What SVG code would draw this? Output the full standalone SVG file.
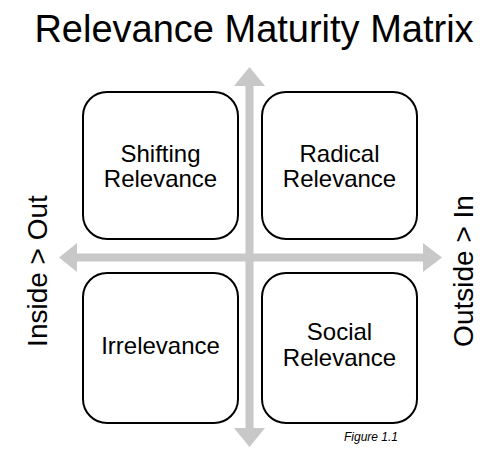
<svg xmlns="http://www.w3.org/2000/svg" width="502" height="459" viewBox="0 0 502 459">
<style>
text{font-family:"Liberation Sans",Arial,sans-serif;fill:#000}
.box{fill:#fff;stroke:#000;stroke-width:2}
.lbl{font-size:24px;text-anchor:middle}
.ax{fill:#c8c8c8}
</style>
<rect width="502" height="459" fill="#fff"/>
<text x="254" y="42" font-size="38" text-anchor="middle">Relevance Maturity Matrix</text>
<g id="connectors">
<polygon class="ax" points="249.5,67 265,86 253.5,86 253.5,428 265,428 249.5,447 234,428 245.5,428 245.5,86 234,86"/>
<polygon class="ax" points="59,257.5 77,243 77,253.5 423,253.5 423,243 442,257.5 423,272 423,261.5 77,261.5 77,272"/>
</g>
<g id="shifting">
<rect class="box" x="83" y="92" width="155" height="147" rx="24"/>
<text class="lbl" x="160.5" y="162">Shifting</text>
<text class="lbl" x="160.5" y="187">Relevance</text>
</g>
<g id="radical">
<rect class="box" x="262" y="92" width="155" height="147" rx="24"/>
<text class="lbl" x="339.5" y="162">Radical</text>
<text class="lbl" x="339.5" y="187">Relevance</text>
</g>
<g id="irrelevance">
<rect class="box" x="83" y="273" width="155" height="150" rx="24"/>
<text class="lbl" x="160.5" y="354">Irrelevance</text>
</g>
<g id="social">
<rect class="box" x="262" y="273" width="155" height="150" rx="24"/>
<text class="lbl" x="339.5" y="340">Social</text>
<text class="lbl" x="339.5" y="366">Relevance</text>
</g>
<text font-size="28" text-anchor="middle" transform="translate(47,271) rotate(-90)">Inside &gt; Out</text>
<text font-size="28" text-anchor="middle" transform="translate(473,271) rotate(-90)">Outside &gt; In</text>
<text x="371" y="441" font-size="12" font-style="italic" text-anchor="middle">Figure 1.1</text>
</svg>
